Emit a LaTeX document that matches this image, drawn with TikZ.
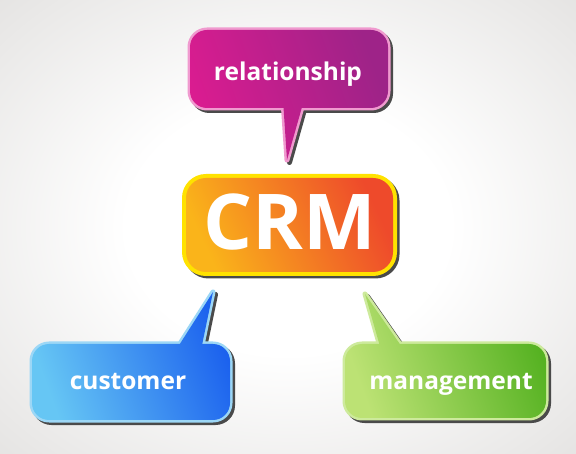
\documentclass[tikz,border=0pt]{standalone}
\usepackage{fontspec}
\setmainfont{Open Sans}
\definecolor{bgedge}{HTML}{D4D2D0}
\definecolor{shadowcol}{HTML}{4A4A4A}
\definecolor{relA}{HTML}{DA1C90}
\definecolor{relB}{HTML}{9E2388}
\definecolor{relBorder}{HTML}{F09ACF}
\definecolor{crmA}{HTML}{FAB41A}
\definecolor{crmB}{HTML}{EE4A2B}
\definecolor{crmBorder}{HTML}{FFE200}
\definecolor{cusA}{HTML}{66C6F4}
\definecolor{cusB}{HTML}{1C62EE}
\definecolor{cusBorder}{HTML}{9CD7F6}
\definecolor{mgtA}{HTML}{BCE274}
\definecolor{mgtB}{HTML}{56B222}
\definecolor{mgtBorder}{HTML}{CDEA9C}
\pgfdeclareradialshading{bgshade}{\pgfpoint{0bp}{0bp}}{color(0bp)=(white); color(14bp)=(white); color(50bp)=(bgedge); color(80bp)=(bgedge)}
\tikzset{
  shadowlayer/.style={fill=shadowcol, draw=shadowcol, line width=5pt, line join=round, shift={(2.5,2.5)}},
  borderlayer/.style={fill=#1, draw=#1, line width=5pt, line join=round},
  lbl/.style={text=white, font=\bfseries\fontsize{24.5}{24.5}\selectfont, anchor=base, inner sep=0pt},
}
\begin{document}
\begin{tikzpicture}[x=1pt, y=-1pt]
\useasboundingbox (0,0) rectangle (576,454);
\shade[shading=bgshade] (0,0) rectangle (576,454);

% relationship bubble
\def\relpath{[rounded corners=17pt] (190,30) -- (388,30) -- (388,108) -- (190,108) -- cycle
  [sharp corners] (283,100) -- (304,100) -- (287,160) -- cycle}
\fill[shadowlayer] \relpath;
\filldraw[borderlayer=relBorder] \relpath;
\shade[left color=relA, right color=relB, shading angle=110] \relpath;
\node[lbl] (rel) at (288,81) {relationship};

% CRM box
\def\crmpath{[rounded corners=20pt] (186,178) -- (393,178) -- (393,272) -- (186,272) -- cycle}
\fill[shadowlayer, line width=8pt] \crmpath;
\filldraw[borderlayer=crmBorder, line width=8pt] \crmpath;
\shade[left color=crmA, right color=crmB, shading angle=115] \crmpath;
\node[text=white, font=\bfseries\fontsize{77}{77}\selectfont, anchor=base, inner sep=0pt] (crm) at (290,250) {CRM};

% customer bubble
\def\cuspath{[rounded corners=17pt] (32,344) -- (230,344) -- (230,420) -- (32,420) -- cycle
  [sharp corners] (176,350) -- (213,292) -- (201,350) -- cycle}
\fill[shadowlayer] \cuspath;
\filldraw[borderlayer=cusBorder] \cuspath;
\shade[left color=cusA, right color=cusB, shading angle=110] \cuspath;
\node[lbl] (cus) at (128,390) {customer};

% management bubble
\def\mgtpath{[rounded corners=17pt] (345,344) -- (546,344) -- (546,418) -- (345,418) -- cycle
  [sharp corners] (381,350) -- (365,294) -- (404,350) -- cycle}
\fill[shadowlayer] \mgtpath;
\filldraw[borderlayer=mgtBorder] \mgtpath;
\shade[left color=mgtA, right color=mgtB, shading angle=110] \mgtpath;
\node[lbl] (mgt) at (451,390) {management};
\end{tikzpicture}
\end{document}
